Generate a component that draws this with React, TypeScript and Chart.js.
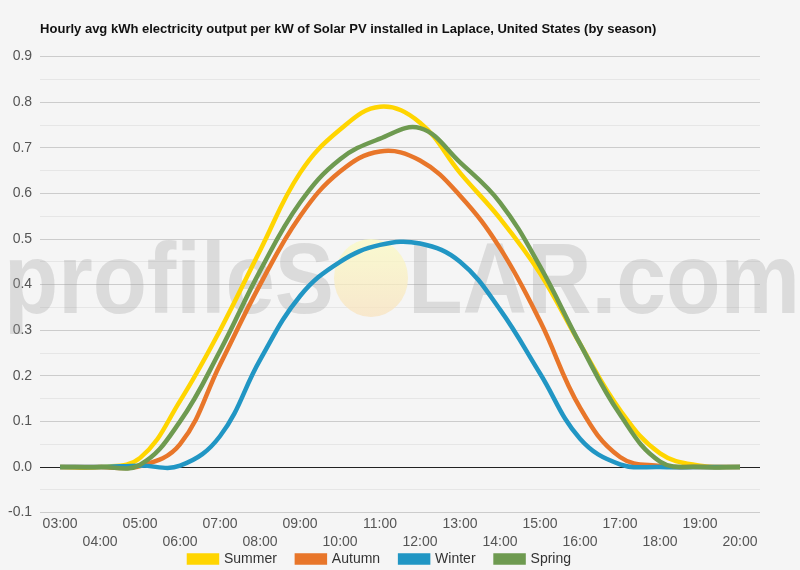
import { useEffect, useRef } from "react"
import { Chart, registerables } from "chart.js"

Chart.register(...registerables)

const hours = [
  "03:00", "04:00", "05:00", "06:00", "07:00", "08:00", "09:00", "10:00", "11:00",
  "12:00", "13:00", "14:00", "15:00", "16:00", "17:00", "18:00", "19:00", "20:00",
]
const summer = [0, 0, 0.02, 0.145, 0.3, 0.475, 0.645, 0.74, 0.79, 0.755, 0.645, 0.545, 0.425, 0.27, 0.125, 0.03, 0.003, 0]
const autumn = [0, 0, 0.002, 0.05, 0.225, 0.4, 0.55, 0.648, 0.692, 0.672, 0.595, 0.48, 0.32, 0.13, 0.022, 0.002, 0, 0]
const winter = [0, 0, 0.003, 0.003, 0.068, 0.235, 0.375, 0.45, 0.487, 0.49, 0.45, 0.345, 0.205, 0.062, 0.006, 0, 0, 0]
const spring = [0, 0, 0.005, 0.1, 0.255, 0.43, 0.58, 0.675, 0.72, 0.743, 0.668, 0.58, 0.44, 0.27, 0.115, 0.012, 0, 0]

const FONT = "'Liberation Sans', Arial, sans-serif"

// big faded "profileSOLAR.com" mark behind the lines
const watermark = {
  id: "watermark",
  beforeDatasetsDraw(chart: Chart) {
    const ctx = chart.ctx
    ctx.save()
    ctx.font = `bold 100px ${FONT}`
    ctx.textBaseline = "alphabetic"
    ctx.textAlign = "left"
    ctx.fillStyle = "rgba(160, 160, 160, 0.3)"
    const part = (text: string, x: number, w: number) => {
      const m = ctx.measureText(text).width
      ctx.save()
      ctx.translate(x, 313)
      ctx.scale(w / m, 1)
      ctx.fillText(text, 0, 0)
      ctx.restore()
    }
    part("profileS", 4, 330)
    part("LAR.com", 408, 392)
    const g = ctx.createLinearGradient(0, 240, 0, 317)
    g.addColorStop(0, "rgba(250, 250, 195, 0.75)")
    g.addColorStop(1, "rgba(248, 226, 190, 0.75)")
    ctx.fillStyle = g
    ctx.beginPath()
    ctx.ellipse(371, 278, 37, 39, 0, 0, Math.PI * 2)
    ctx.fill()
    ctx.restore()
  },
}

// the legend sits close under the two rows of hour labels
const legendUp = {
  id: "legendUp",
  afterLayout(chart: Chart) {
    const lg = (chart as any).legend
    if (!lg) return
    const h = lg.bottom - lg.top
    lg.top = 532
    lg.bottom = 532 + h
  },
}

export default function App() {
  const chartRef = useRef<HTMLCanvasElement>(null)
  const chartInstance = useRef<Chart | null>(null)

  useEffect(() => {
    if (!chartRef.current) return
    const ctx = chartRef.current.getContext("2d")
    if (!ctx) return

    if (chartInstance.current) {
      chartInstance.current.destroy()
    }

    const line = (label: string, data: number[], color: string, order: number) => ({
      label,
      data,
      borderColor: color,
      backgroundColor: color,
      borderWidth: 4.5,
      tension: 0.4,
      pointRadius: 0,
      fill: false,
      order,
    })

    chartInstance.current = new Chart(ctx, {
      type: "line",
      data: {
        // odd hours on the first row, even hours on the second
        labels: hours.map((h, i) => (i % 2 === 0 ? h : ["", h])),
        datasets: [
          line("Summer", summer, "#FFD500", 3),
          line("Autumn", autumn, "#E8762A", 2),
          line("Winter", winter, "#2196C4", 1),
          line("Spring", spring, "#6E9A50", 0),
        ],
      },
      options: {
        animation: false,
        responsive: false,
        layout: {
          padding: { left: 0, right: 40, top: 0, bottom: -27 },
        },
        plugins: {
          title: {
            display: true,
            text: "Hourly avg kWh electricity output per kW of Solar PV installed in Laplace, United States (by season)",
            align: "start",
            fullSize: false,
            color: "#111",
            font: { family: FONT, size: 13, weight: "bold" },
            padding: { top: 22, bottom: 19 },
          },
          legend: {
            position: "bottom",
            labels: {
              boxWidth: 28,
              boxHeight: 7,
              padding: 20,
              color: "#333",
              font: { family: FONT, size: 14 },
              sort: (a, b) => (a.datasetIndex ?? 0) - (b.datasetIndex ?? 0),
            },
          },
          tooltip: { enabled: false },
        },
        scales: {
          x: {
            offset: true,
            grid: { display: false, drawTicks: false },
            border: { display: false },
            ticks: {
              autoSkip: false,
              maxRotation: 0,
              padding: 2,
              color: "#555",
              font: { family: FONT, size: 14, lineHeight: 1.3 },
            },
          },
          y: {
            min: -0.1,
            max: 0.9,
            border: { display: false },
            grid: {
              drawTicks: false,
              color: (c) => {
                const v = c.tick ? c.tick.value : 0
                if (Math.abs(v) < 1e-6) return "#222"
                return Math.round(v * 20) % 2 === 0 ? "#cccccc" : "#e6e6e6"
              },
            },
            ticks: {
              stepSize: 0.05,
              padding: 8,
              color: "#555",
              font: { family: FONT, size: 14 },
              callback: (value) => {
                const v = Number(value)
                return Math.round(v * 20) % 2 === 0 ? v.toFixed(1) : ""
              },
            },
          },
        },
      },
      plugins: [watermark, legendUp],
    })

    return () => {
      if (chartInstance.current) {
        chartInstance.current.destroy()
      }
    }
  }, [])

  return (
    <div style={{ position: "fixed", left: 0, top: 0, width: 800, height: 570, background: "#f5f5f5" }}>
      <canvas ref={chartRef} width={800} height={570} />
    </div>
  )
}
